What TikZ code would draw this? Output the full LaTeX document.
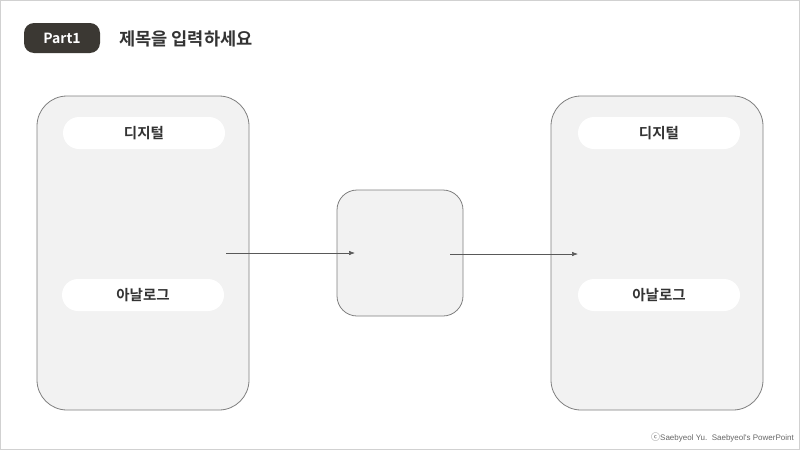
\documentclass[tikz,border=0pt]{standalone}
\usepackage{fontspec}
\setmainfont{Noto Sans CJK KR}
\newfontfamily\krb{Noto Sans CJK KR}[BoldFont={* Bold}]
\newfontfamily\footfont{Liberation Sans}
\usetikzlibrary{arrows.meta}
\definecolor{boxfill}{HTML}{F2F2F2}
\definecolor{boxline}{HTML}{7F7F7F}
\definecolor{badge}{HTML}{3B3833}
\definecolor{titletxt}{HTML}{333333}
\tikzset{
  bigbox/.style={draw=boxline, fill=boxfill, line width=0.8pt, rounded corners=30pt},
  midbox/.style={draw=boxline, fill=boxfill, line width=0.8pt, rounded corners=20pt},
  pill/.style={fill=white, draw=none, rounded corners=16pt, minimum width=162pt, minimum height=32pt, inner sep=0pt, font=\fontsize{14.5}{16}\selectfont\bfseries\krb, text=titletxt},
  conn/.style={draw=black!65, line width=0.6pt, -{Latex[length=6pt,width=4.5pt]}},
}
\begin{document}
\begin{tikzpicture}[x=1pt,y=-1pt]
\useasboundingbox (0,0) rectangle (800,450);
\draw[black!18, line width=1.2pt] (0.6,0.6) rectangle (799.4,449.4);
% header
\node[fill=badge, rounded corners=10pt, minimum width=76pt, minimum height=30pt, inner sep=0pt, text=white, font=\fontsize{14}{16}\selectfont\bfseries\krb] (badge) at (62,38) {Part1};
\node[anchor=west, inner sep=0pt, text=titletxt, font=\fontsize{17.6}{19}\selectfont\bfseries\krb] (title) at (119,39) {제목을 입력하세요};
% boxes
\path[bigbox] (37,96) rectangle (249,410);
\node[inner sep=0pt, minimum width=212pt, minimum height=314pt] (left) at (143,253) {};
\path[midbox] (337,190) rectangle (463,316);
\node[inner sep=0pt, minimum width=126pt, minimum height=126pt] (mid) at (400,253) {};
\path[bigbox] (551,96) rectangle (763,410);
\node[inner sep=0pt, minimum width=212pt, minimum height=314pt] (right) at (657,253) {};
% pills
\node[pill] (ld) at (144,133) {디지털};
\node[pill] (la) at (143,295) {아날로그};
\node[pill] (rd) at (659,133) {디지털};
\node[pill] (ra) at (659,295) {아날로그};
% connectors
\coordinate (a1s) at (226,253);
\coordinate (a1e) at (355,253);
\coordinate (a2s) at (450,254);
\coordinate (a2e) at (578,254);
\draw[conn] (a1s) -- (a1e);
\draw[conn] (a2s) -- (a2e);
% footer
\node[anchor=east, inner sep=0pt, text=black!60, font=\fontsize{8}{10}\selectfont] (foot) at (794,438) {{\fontsize{9}{10}\selectfont ⓒ}{\footfont Saebyeol Yu.\ \ Saebyeol's PowerPoint}};
\end{tikzpicture}
\end{document}
